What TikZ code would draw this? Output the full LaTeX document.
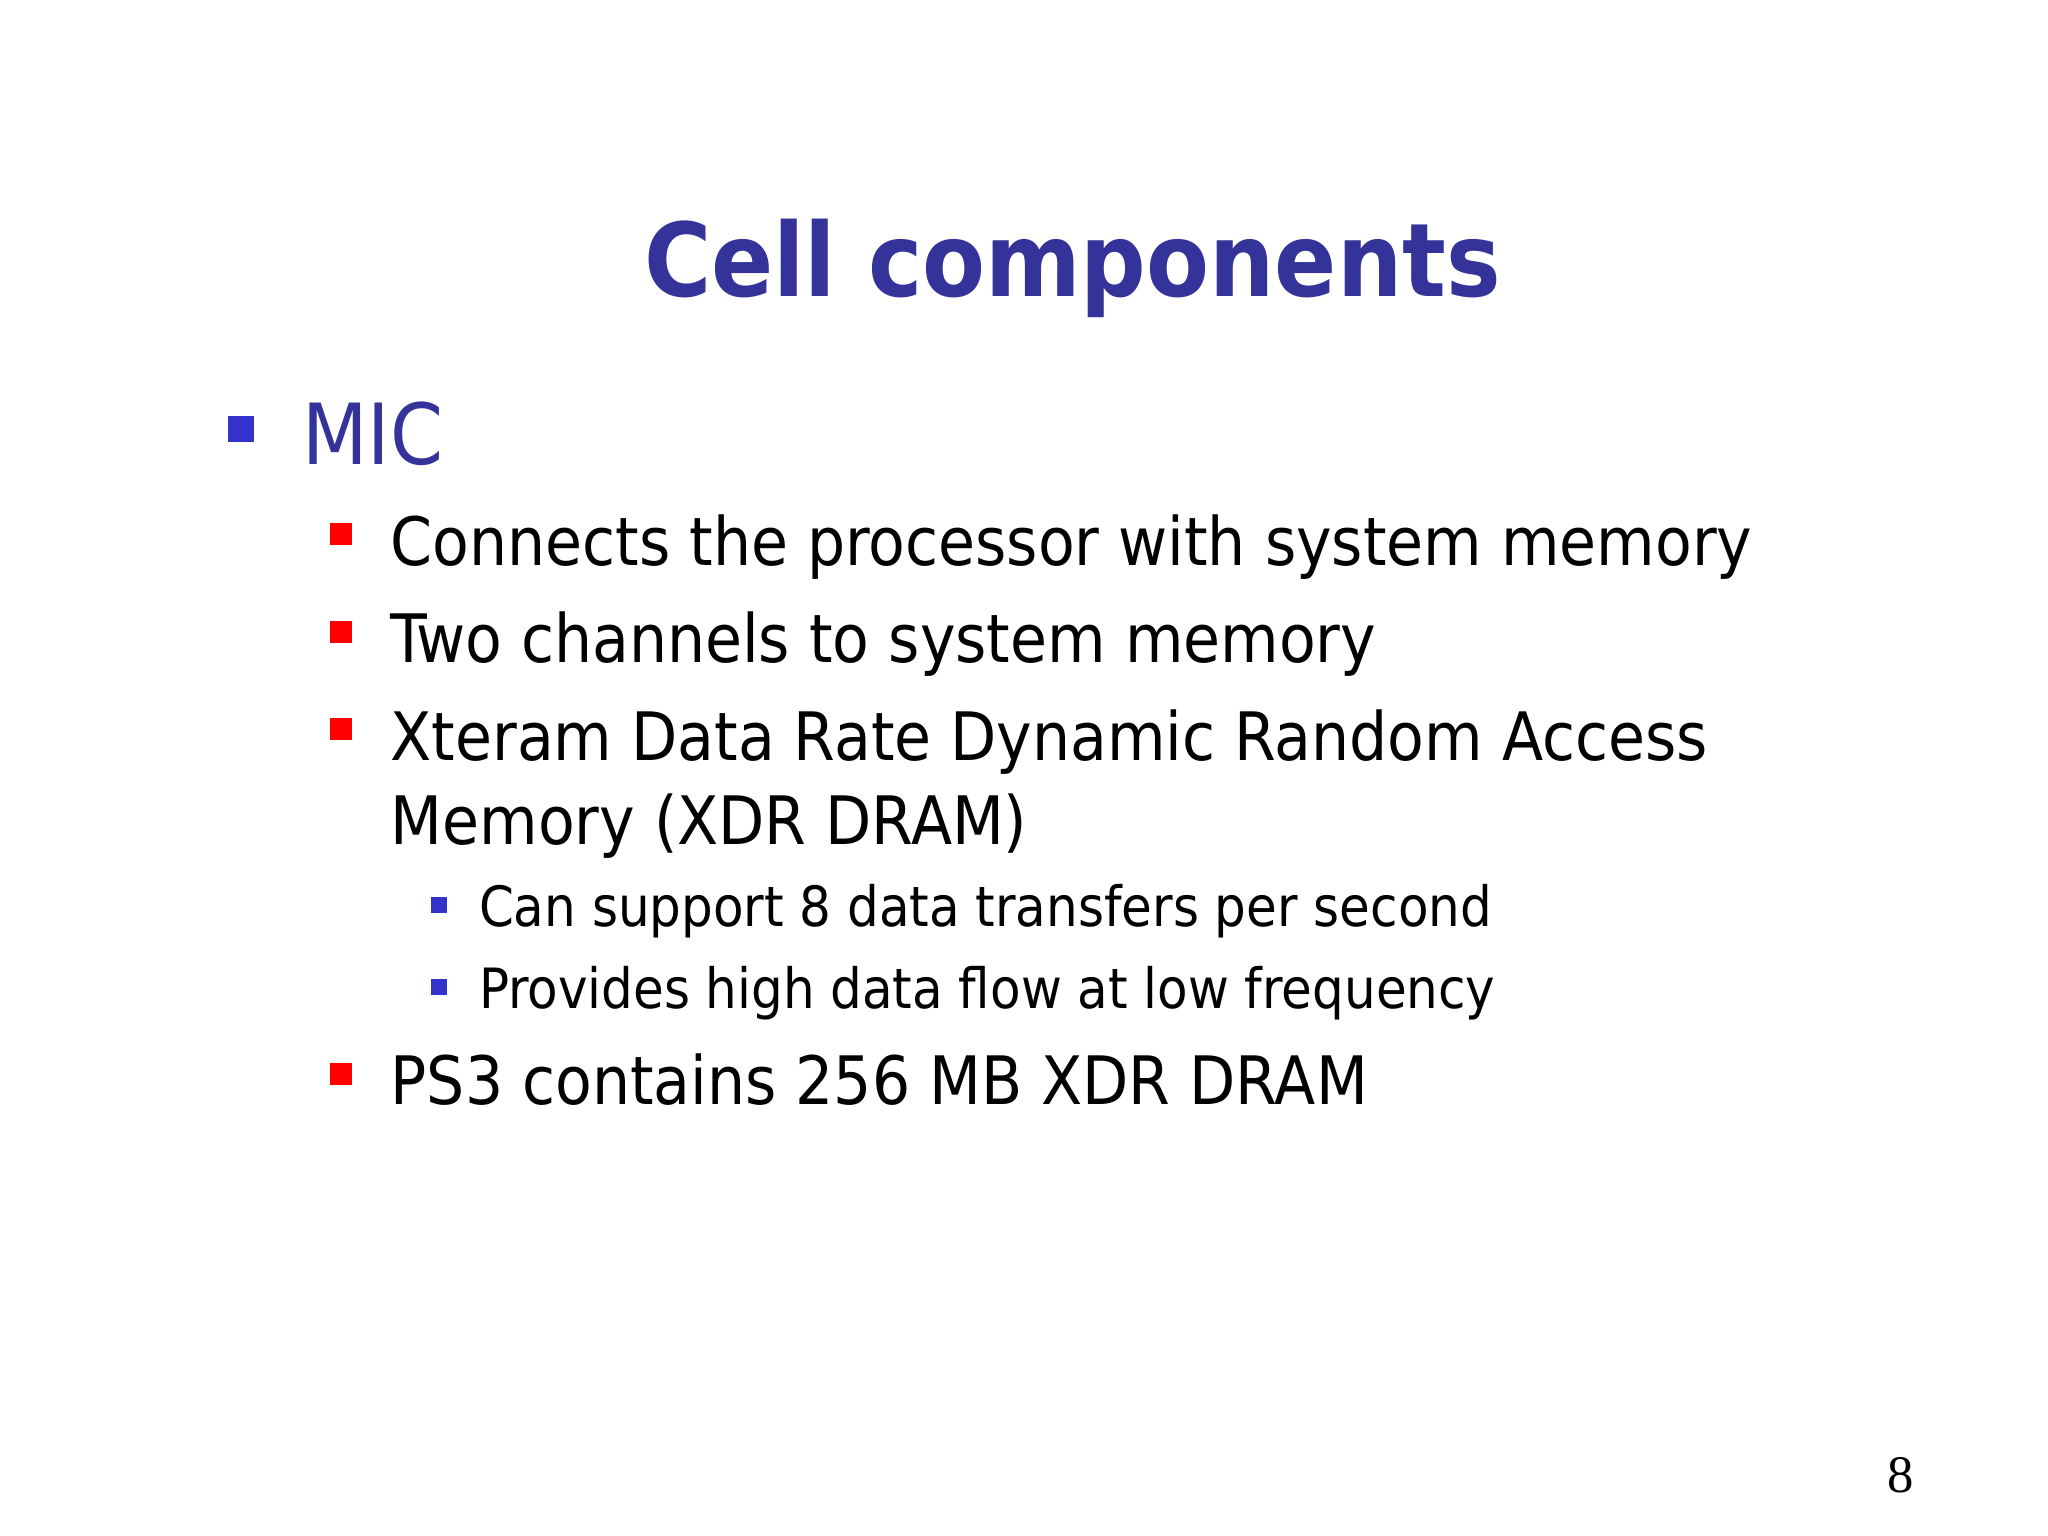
\documentclass[tikz,border=0pt]{standalone}
\usepackage{fontspec}
\setmainfont{DejaVu Sans Condensed}
\newfontfamily\pagefont{Liberation Serif}
\usetikzlibrary{calc}
\definecolor{slideblue}{RGB}{51,51,153}
\definecolor{dotblue}{RGB}{51,51,204}
\definecolor{dotred}{RGB}{255,0,0}
\tikzset{
  line/.style={anchor=base west, inner sep=0pt},
  lvlone/.style={line, font=\fontsize{24}{28}\selectfont, text=slideblue},
  lvltwo/.style={line, font=\fontsize{19}{23}\selectfont},
  lvlthree/.style={line, font=\fontsize{15.8}{19}\selectfont},
  bigdot/.style={fill=dotblue, minimum size=0.26cm, inner sep=0pt},
  reddot/.style={fill=dotred, minimum size=0.22cm, inner sep=0pt},
  smalldot/.style={fill=dotblue, minimum size=0.16cm, inner sep=0pt}
}
\begin{document}
\begin{tikzpicture}
\useasboundingbox[fill=white] (0,0) rectangle (20.48,15.36);
\node[anchor=base, inner sep=0pt, text=slideblue, font=\fontsize{29}{34}\bfseries\selectfont] (title) at (10.725,12.396) {Cell components};
% first level
\node[lvlone] (mic) at (3.016,10.719) {MIC};
\node[bigdot] (bmic) at ($(mic.base west)+(-0.61,0.35)$) {};
% second level
\node[lvltwo] (conn) at (3.90,9.705) {Connects the processor with system memory};
\node[lvltwo] (two) at (3.90,8.73) {Two channels to system memory};
\node[lvltwo] (xdr) at (3.90,7.755) {Xteram Data Rate Dynamic Random Access};
\node[lvltwo] (xdrb) at (3.90,6.91) {Memory (XDR DRAM)};
\node[lvltwo] (ps3) at (3.90,4.31) {PS3 contains 256 MB XDR DRAM};
\foreach \n in {conn,two,xdr,ps3}
  \node[reddot] (b\n) at ($(\n.base west)+(-0.49,0.31)$) {};
% third level
\node[lvlthree] (can) at (4.784,6.091) {Can support 8 data transfers per second};
\node[lvlthree] (flow) at (4.784,5.272) {Provides high data flow at low frequency};
\foreach \n in {can,flow}
  \node[smalldot] (b\n) at ($(\n.base west)+(-0.39,0.22)$) {};
\node[anchor=base east, inner sep=0pt, font=\pagefont\fontsize{15}{18}\selectfont] (page) at (19.15,0.436) {8};
\end{tikzpicture}
\end{document}
